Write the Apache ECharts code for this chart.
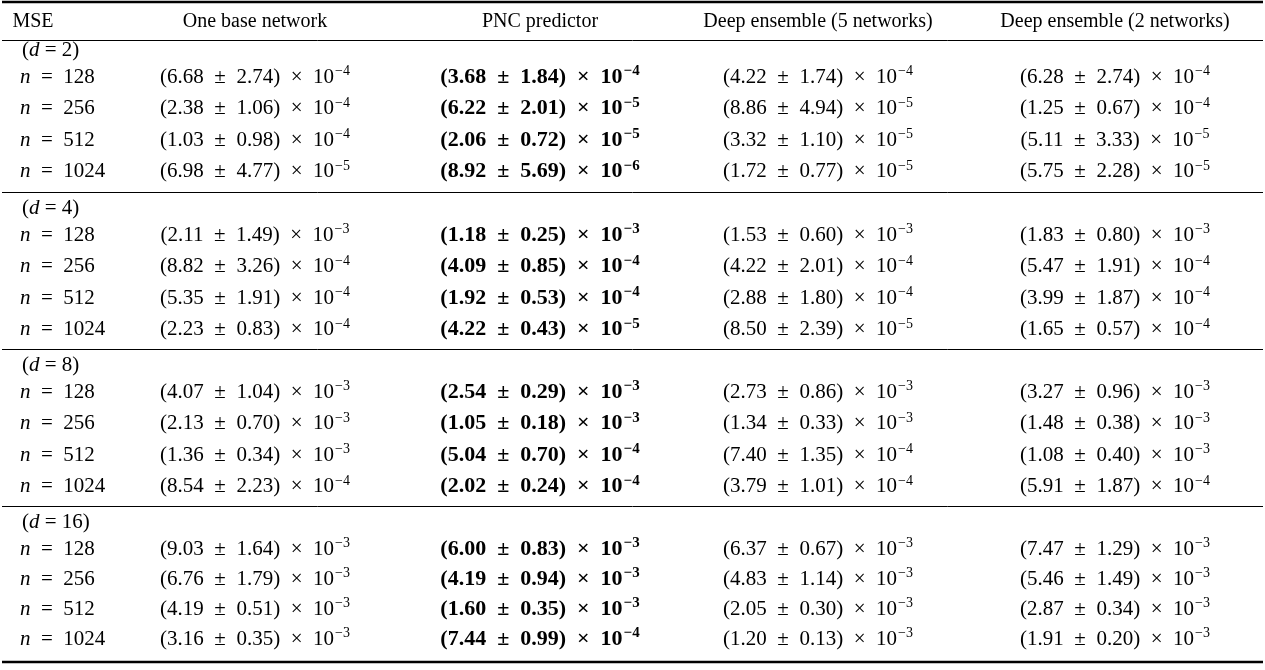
<!DOCTYPE html>
<html><head><meta charset="utf-8">
<script src="https://cdn.jsdelivr.net/npm/echarts@6/dist/echarts.min.js"></script>
<style>html,body{margin:0;padding:0;background:#fff}#c{width:1265px;height:670px}</style>
</head><body><div id="c"></div>
<script>
const headers = ["MSE","One base network","PNC predictor","Deep ensemble (5 networks)","Deep ensemble (2 networks)"];
const groups = [2,4,8,16];
const nValues = [128,256,512,1024];
const baseNet = [
 [6.68,2.74,-4],[2.38,1.06,-4],[1.03,0.98,-4],[6.98,4.77,-5],
 [2.11,1.49,-3],[8.82,3.26,-4],[5.35,1.91,-4],[2.23,0.83,-4],
 [4.07,1.04,-3],[2.13,0.70,-3],[1.36,0.34,-3],[8.54,2.23,-4],
 [9.03,1.64,-3],[6.76,1.79,-3],[4.19,0.51,-3],[3.16,0.35,-3]];
const pnc = [
 [3.68,1.84,-4],[6.22,2.01,-5],[2.06,0.72,-5],[8.92,5.69,-6],
 [1.18,0.25,-3],[4.09,0.85,-4],[1.92,0.53,-4],[4.22,0.43,-5],
 [2.54,0.29,-3],[1.05,0.18,-3],[5.04,0.70,-4],[2.02,0.24,-4],
 [6.00,0.83,-3],[4.19,0.94,-3],[1.60,0.35,-3],[7.44,0.99,-4]];
const ens5 = [
 [4.22,1.74,-4],[8.86,4.94,-5],[3.32,1.10,-5],[1.72,0.77,-5],
 [1.53,0.60,-3],[4.22,2.01,-4],[2.88,1.80,-4],[8.50,2.39,-5],
 [2.73,0.86,-3],[1.34,0.33,-3],[7.40,1.35,-4],[3.79,1.01,-4],
 [6.37,0.67,-3],[4.83,1.14,-3],[2.05,0.30,-3],[1.20,0.13,-3]];
const ens2 = [
 [6.28,2.74,-4],[1.25,0.67,-4],[5.11,3.33,-5],[5.75,2.28,-5],
 [1.83,0.80,-3],[5.47,1.91,-4],[3.99,1.87,-4],[1.65,0.57,-4],
 [3.27,0.96,-3],[1.48,0.38,-3],[1.08,0.40,-3],[5.91,1.87,-4],
 [7.47,1.29,-3],[5.46,1.49,-3],[2.87,0.34,-3],[1.91,0.20,-3]];

const colX = [33,255,540,818,1115];
const FONT = '"Liberation Serif","DejaVu Serif",serif';
const cells = [];
const lines = [];
function fmt(v,bold){
  const t = '(' + v[0].toFixed(2) + '  ±  ' + v[1].toFixed(2) + ')  ×  10';
  const e = '−' + Math.abs(v[2]);
  return bold ? '{b|'+t+'}{bs|'+e+'}' : '{a|'+t+'}{s|'+e+'}';
}
headers.forEach((h,i)=>cells.push([colX[i],22,'{h|'+h+'}','center']));
lines.push([2,2.5]); lines.push([40.5,1]);
const groupTop = [50,208,365,522];
const rowStep = [31.5,31.5,31.5,30];
groups.forEach((d,g)=>{
  const y0 = groupTop[g];
  cells.push([22,y0,'{a|(}{i|d}{a| = '+d+')}','left']);
  nValues.forEach((n,r)=>{
    const y = y0 + 27 + r*rowStep[g];
    const k = g*4+r;
    cells.push([20,y,'{i|n}{a|  =  '+n+'}','left']);
    cells.push([colX[1],y,fmt(baseNet[k],false),'center']);
    cells.push([colX[2],y,fmt(pnc[k],true),'center']);
    cells.push([colX[3],y,fmt(ens5[k],false),'center']);
    cells.push([colX[4],y,fmt(ens2[k],false),'center']);
  });
  if(g<3) lines.push([Math.round(groupTop[g+1]-16)+0.5,1]);
});
lines.push([662,2.5]);

const rich = {
  h:{fontFamily:FONT,fontSize:20,color:'#111'},
  a:{fontFamily:FONT,fontSize:21,color:'#111'},
  i:{fontFamily:FONT,fontSize:21,fontStyle:'italic',color:'#111'},
  s:{fontFamily:FONT,fontSize:14,color:'#111',verticalAlign:'top',padding:[0,0,11,1]},
  b:{fontFamily:FONT,fontSize:22,fontWeight:'bold',color:'#000'},
  bs:{fontFamily:FONT,fontSize:15,fontWeight:'bold',color:'#000',verticalAlign:'top',padding:[0,0,11,1]}
};
const chart = echarts.init(document.getElementById('c'));
chart.setOption({
  animation:false,
  grid:{left:0,right:0,top:0,bottom:0},
  xAxis:{type:'value',min:0,max:1265,show:false},
  yAxis:{type:'value',min:0,max:670,inverse:true,show:false},
  series:[
    {type:'custom',data:cells,renderItem:(p,api)=>{
      const c = cells[p.dataIndex];
      const pt = api.coord([c[0],c[1]]);
      return {type:'text',x:pt[0],y:pt[1],style:{text:c[2],rich:rich,align:c[3],verticalAlign:'middle'}};
    }},
    {type:'custom',data:lines,renderItem:(p,api)=>{
      const l = lines[p.dataIndex];
      const a = api.coord([2,l[0]]), b = api.coord([1263,l[0]]);
      return {type:'line',shape:{x1:a[0],y1:a[1],x2:b[0],y2:b[1]},style:{stroke:'#000',lineWidth:l[1]}};
    }}
  ]
});
</script></body></html>
